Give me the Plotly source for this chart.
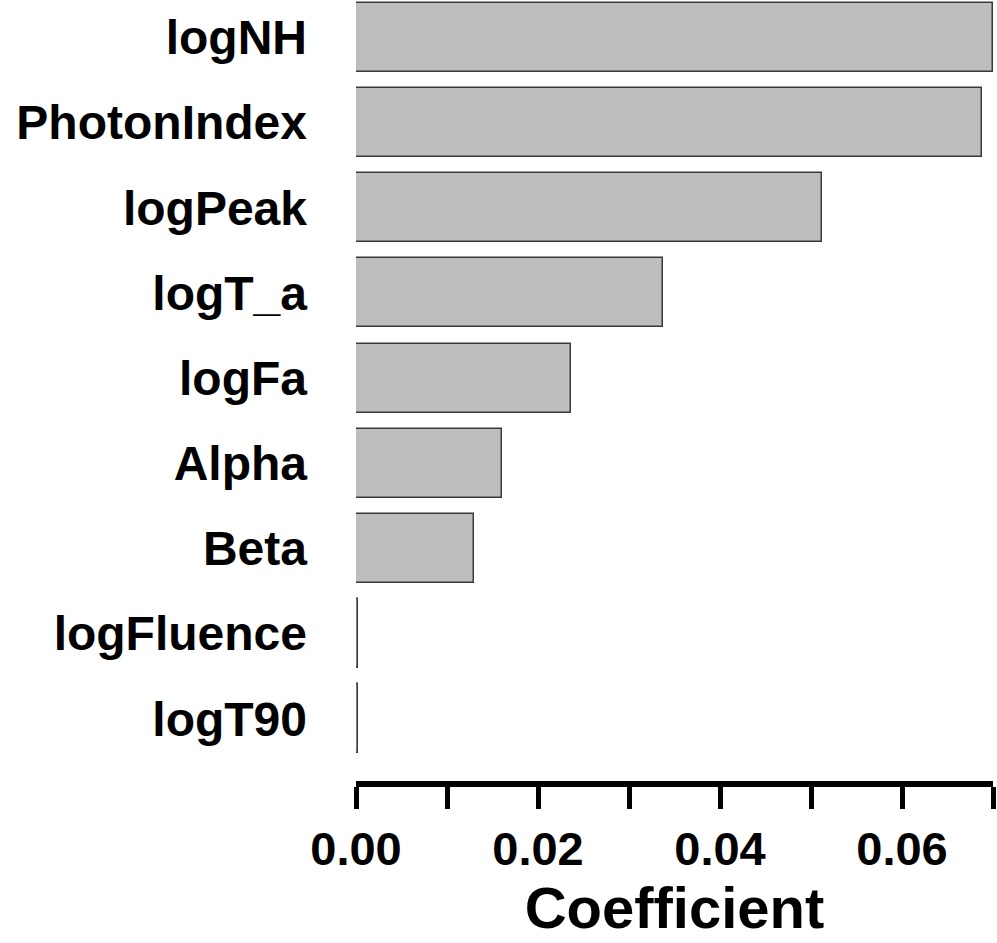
import plotly.graph_objects as go

features = ["logNH", "PhotonIndex", "logPeak", "logT_a", "logFa", "Alpha", "Beta", "logFluence", "logT90"]
coefficients = [0.0700, 0.0688, 0.0512, 0.0337, 0.0236, 0.0160, 0.0130, 0.0002, 0.0002]

x_tickvals = [0.00, 0.01, 0.02, 0.03, 0.04, 0.05, 0.06, 0.07]
x_ticktext = ["0.00", "", "0.02", "", "0.04", "", "0.06", ""]

FONT = "Liberation Sans, Arial, sans-serif"

fig = go.Figure(go.Bar(
    x=coefficients,
    y=features,
    orientation="h",
    width=0.81,
    marker=dict(color="#bebebe", line=dict(color="#3a3a3a", width=1.5)),
))

fig.update_layout(
    width=997, height=943,
    margin=dict(l=356, r=4, t=0, b=162),
    plot_bgcolor="white", paper_bgcolor="white",
    showlegend=False,
    bargap=0,
    xaxis=dict(
        range=[0, 0.07],
        tickvals=x_tickvals, ticktext=x_ticktext,
        showgrid=False, zeroline=False,
        showline=True, linecolor="black", linewidth=6,
        ticks="outside", ticklen=22, tickwidth=5, tickcolor="black",
        tickfont=dict(family=FONT, size=47, color="black", weight="bold"),
        ticklabelstandoff=0,
        title=dict(text="Coefficient", font=dict(family=FONT, size=58, color="black", weight="bold"), standoff=12),
    ),
    yaxis=dict(
        type="category",
        categoryorder="array", categoryarray=features,
        range=[8.73, -0.44],
        showgrid=False, zeroline=False, showline=False,
        ticks="", ticklabelstandoff=48,
        tickfont=dict(family=FONT, size=48, color="black", weight="bold"),
    ),
)

fig.write_html("out.html")
